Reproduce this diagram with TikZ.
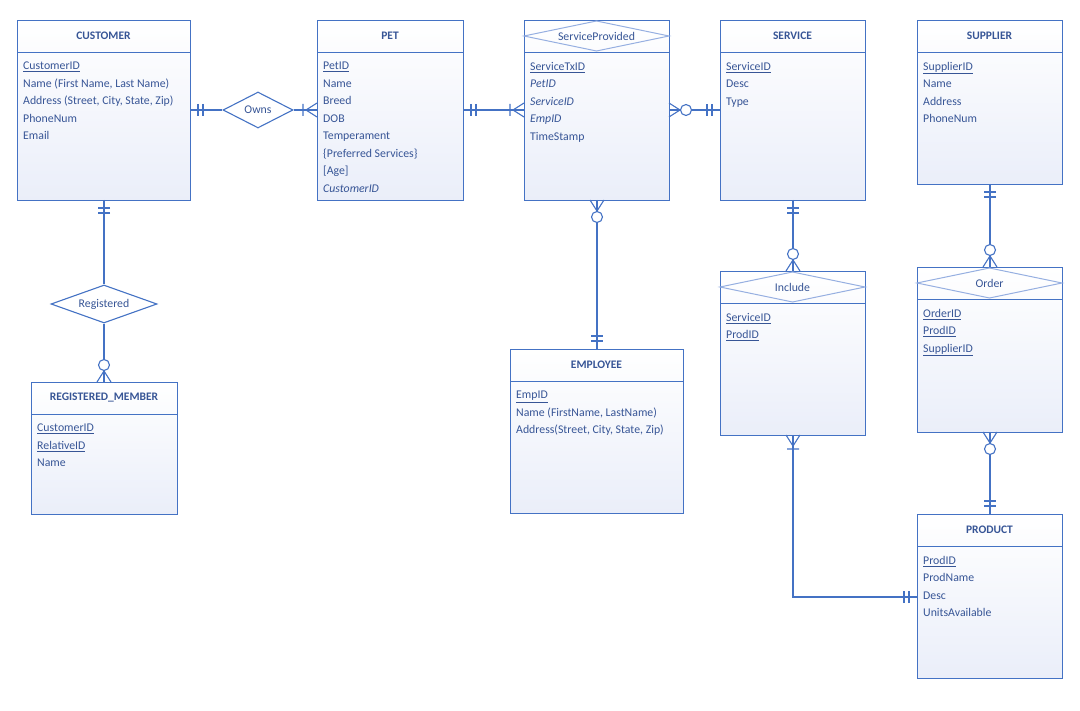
\documentclass[tikz,border=0pt]{standalone}
\usepackage{fontspec}
\setmainfont{Carlito}
\usetikzlibrary{shapes.geometric}
\definecolor{eb}{RGB}{68,114,196}
\definecolor{et}{RGB}{55,85,150}
\definecolor{bg}{RGB}{234,238,249}
\definecolor{dl}{RGB}{150,175,225}
\begin{document}
\begin{tikzpicture}[x=1pt,y=-1pt,
  box/.style={draw=eb,line width=0.9pt,top color=white,bottom color=bg,anchor=north west,inner sep=0pt},
  ttl/.style={font=\fontsize{11.5}{12}\selectfont\bfseries,text=et},
  attr/.style={font=\fontsize{11.8}{17.5}\selectfont,text=et,align=left,anchor=north west,inner sep=0pt},
  ln/.style={draw=eb,line width=1.1pt},
  rel/.style={draw=eb,line width=1.1pt,fill=white,diamond,inner sep=0pt,font=\fontsize{11.8}{12}\selectfont,text=et},
  dlab/.style={font=\fontsize{11.8}{12}\selectfont,text=et}]
\useasboundingbox (0,0) rectangle (1080,711);
\newcommand\ent[7]{% name, x, y, w, h, title, attrs
  \node[box,minimum width=#4pt,minimum height=#5pt] (#1) at (#2,#3) {};
  \draw[ln,line width=0.9pt] (#2,#3+32) -- (#2+#4,#3+32);
  \node[ttl] at (#2+#4/2,#3+16) {#6};
  \node[attr] at (#2+6,#3+42) {#7};}
\newcommand\aent[7]{% associative entity
  \node[box,minimum width=#4pt,minimum height=#5pt] (#1) at (#2,#3) {};
  \draw[ln,line width=0.9pt] (#2,#3+32) -- (#2+#4,#3+32);
  \draw[draw=dl,line width=1pt] (#2,#3+16) -- (#2+#4/2,#3+1) -- (#2+#4,#3+16) -- (#2+#4/2,#3+31) -- cycle;
  \node[dlab] at (#2+#4/2,#3+16) {#6};
  \node[attr] at (#2+6,#3+42) {#7};}
\newcommand\one[2]{\begin{scope}[shift={(#1)},rotate=#2]\draw[ln] (8,-6)--(8,6) (13,-6)--(13,6);\end{scope}}
\newcommand\onemany[2]{\begin{scope}[shift={(#1)},rotate=#2]\draw[ln] (0,-7)--(11,0)--(0,7) (14,-6)--(14,6);\end{scope}}
\newcommand\zeromany[2]{\begin{scope}[shift={(#1)},rotate=#2]\draw[ln] (0,-7)--(11,0)--(0,7);\draw[ln,fill=white] (17,0) circle (5.5);\end{scope}}

\ent{cust}{17}{20}{173}{180}{CUSTOMER}{\underline{CustomerID}\\Name (First Name, Last Name)\\Address (Street, City, State, Zip)\\PhoneNum\\Email}
\ent{pet}{317}{20}{146}{180}{PET}{\underline{PetID}\\Name\\Breed\\DOB\\Temperament\\\{Preferred Services\}\\{[Age]}\\\textit{CustomerID}}
\aent{sp}{524}{20}{145}{180}{ServiceProvided}{\underline{ServiceTxID}\\\textit{PetID}\\\textit{ServiceID}\\\textit{EmpID}\\TimeStamp}
\ent{svc}{720}{20}{145}{180}{SERVICE}{\underline{ServiceID}\\Desc\\Type}
\ent{sup}{917}{20}{145}{164}{SUPPLIER}{\underline{SupplierID}\\Name\\Address\\PhoneNum}
\aent{inc}{720}{271}{145}{164}{Include}{\underline{ServiceID}\\\underline{ProdID}}
\aent{ord}{917}{267}{145}{165}{Order}{\underline{OrderID}\\\underline{ProdID}\\\underline{SupplierID}}
\ent{emp}{510}{349}{173}{164}{EMPLOYEE}{\underline{EmpID}\\Name (FirstName, LastName)\\Address(Street, City, State, Zip)}
\ent{rm}{31}{382}{146}{132}{REGISTERED\_MEMBER}{\underline{CustomerID}\\\underline{RelativeID}\\Name}
\ent{prod}{917}{514}{145}{164}{PRODUCT}{\underline{ProdID}\\ProdName\\Desc\\UnitsAvailable}

\node[rel,minimum width=70pt,minimum height=36pt,aspect=1.9] (owns) at (258,110) {Owns};
\node[rel,minimum width=106pt,minimum height=38pt,aspect=2.8] (reg) at (104,304) {Registered};

\coordinate (c1) at (190,110); \coordinate (p1) at (317,110);
\draw[ln] (c1) -- (owns.west); \draw[ln] (owns.east) -- (p1);
\one{c1}{0} \onemany{p1}{180}
\coordinate (p2) at (463,110); \coordinate (s1) at (524,110);
\draw[ln] (p2) -- (s1); \one{p2}{0} \onemany{s1}{180}
\coordinate (s2) at (669,110); \coordinate (v1) at (720,110);
\draw[ln] (s2) -- (v1); \zeromany{s2}{0} \one{v1}{180}
\coordinate (s3) at (597,200); \coordinate (e1) at (597,349);
\draw[ln] (s3) -- (e1); \zeromany{s3}{-90} \one{e1}{90}
\coordinate (c2) at (104,200); \coordinate (r1) at (104,382);
\draw[ln] (c2) -- (reg.north); \draw[ln] (reg.south) -- (r1);
\one{c2}{-90} \zeromany{r1}{90}
\coordinate (v2) at (793,200); \coordinate (i1) at (793,271);
\draw[ln] (v2) -- (i1); \one{v2}{-90} \zeromany{i1}{90}
\coordinate (u1) at (990,184); \coordinate (o1) at (990,267);
\draw[ln] (u1) -- (o1); \one{u1}{-90} \zeromany{o1}{90}
\coordinate (o2) at (990,432); \coordinate (d1) at (990,514);
\draw[ln] (o2) -- (d1); \zeromany{o2}{-90} \one{d1}{90}
\coordinate (i2) at (793,435); \coordinate (d2) at (917,597);
\draw[ln] (i2) |- (d2); \onemany{i2}{-90} \one{d2}{180}
\end{tikzpicture}
\end{document}
